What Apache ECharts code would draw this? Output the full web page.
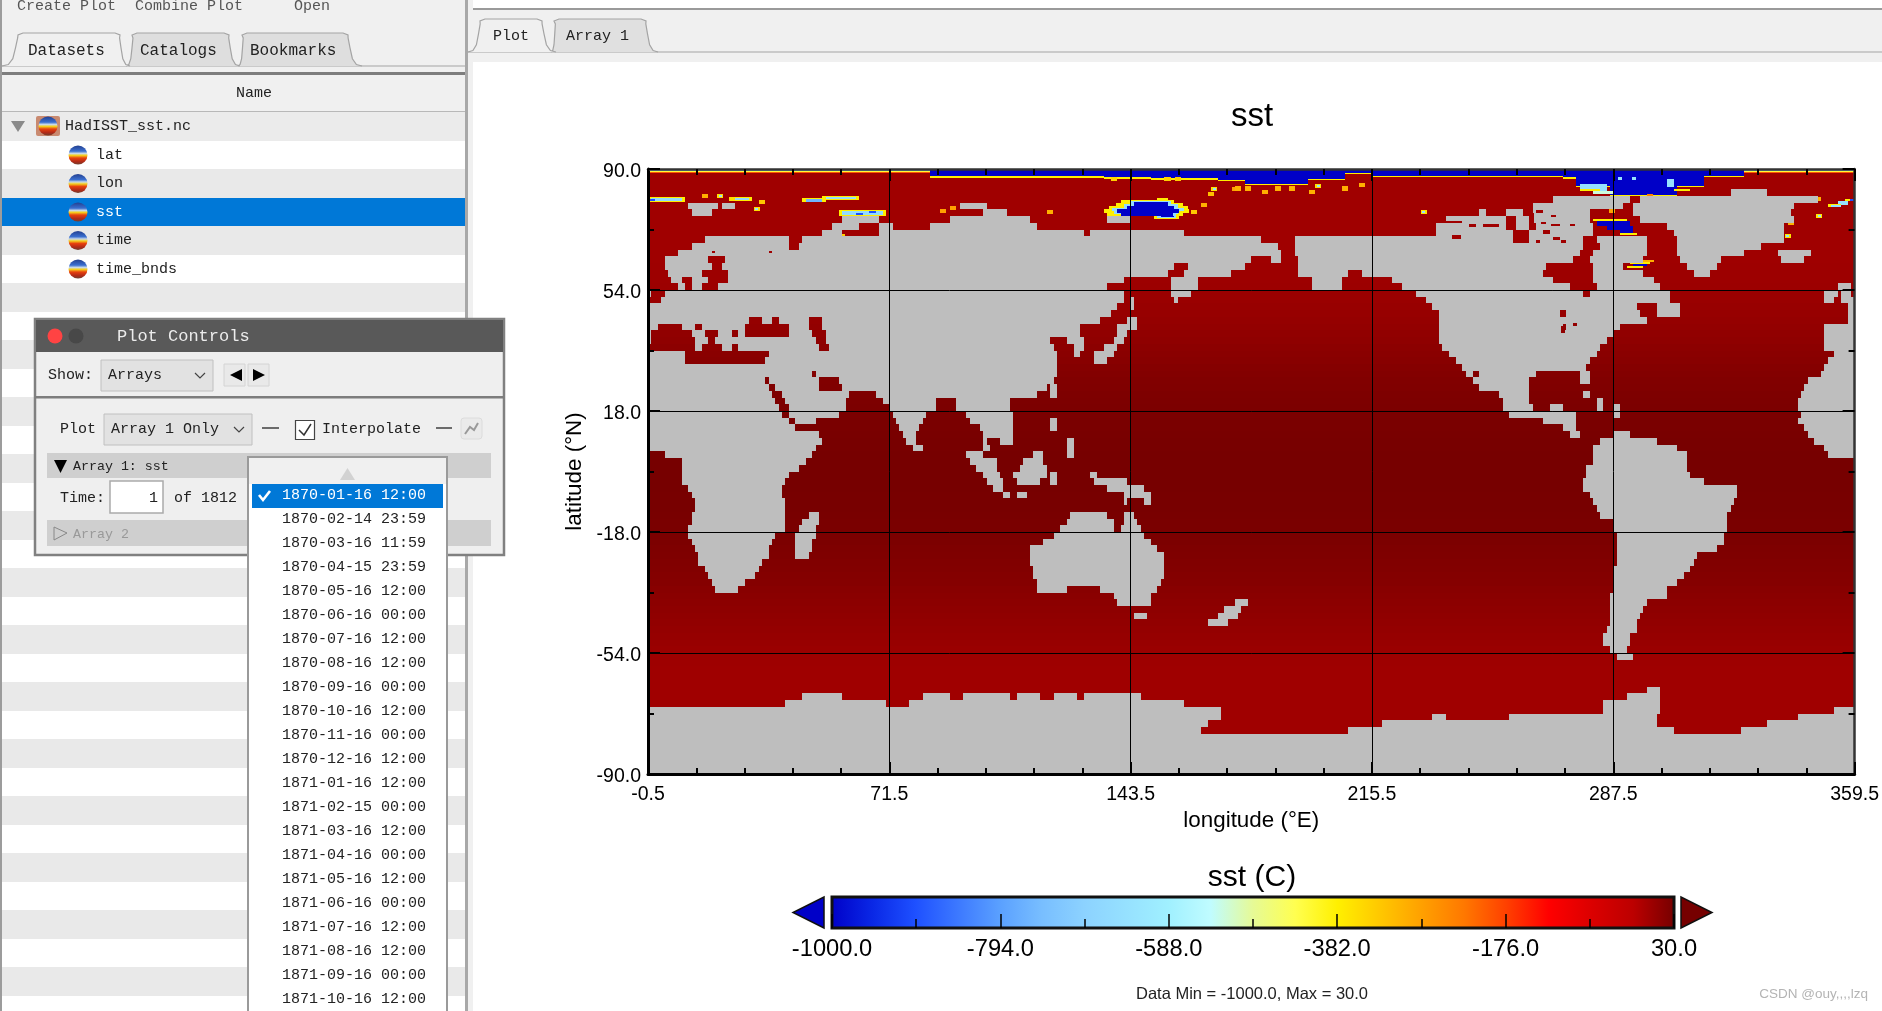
<!DOCTYPE html>
<html><head><meta charset="utf-8">
<style>html,body{margin:0;padding:0;background:#fff;overflow:hidden}#c{width:1882px;height:1011px}</style>
<script src="https://cdn.jsdelivr.net/npm/echarts@6/dist/echarts.min.js"></script>
</head><body><div id="c"></div>
<script>
/* ---------- chart values ---------- */
const title = 'sst';
const barTitle = 'sst (C)';
const footer = 'Data Min = -1000.0, Max = 30.0';
const rowTops = [90,88,86,84,82,80,78,76,74,72,70,68,66,64,62,60,58,56,54,52,50,48,46,44,42,40,38,36,34,32,30,28,26,24,22,20,18,16,14,12,10,8,6,4,2,0,-2,-4,-6,-8,-10,-12,-14,-16,-18,-20,-22,-24,-26,-28,-30,-32,-34,-36,-38,-40,-42,-44,-46,-48,-50,-52,-54,-56,-58,-60,-62,-64,-66,-68,-70,-72,-74,-76,-78,-80,-82,-84,-86,-88];
const seaSst = [-1.8,-1.8,-1.8,-1.8,-1.8,-1.8,-1.8,-1.8,-1.8,-1.8,-1.5,-1.2,-1,-0.5,0,0.5,1,1.5,2.5,3,4,5,6.5,8,9.5,11,13,14.5,16,17.5,19,20.5,21.5,22.5,23.5,24.5,25,25.5,26,26.5,27,27,27.5,27.5,27.5,27.5,27.5,27.5,27,27,27,26.5,26,25.5,25,24,23,22,21,20,18.5,17.5,16,14.5,13,11.5,10,8.5,7,5.5,4,2.5,1,0,-0.5,-1,-1.5,-1.8,-1.8,-1.8,-1.8,-1.8,-1.8,-1.8,-1.8,-1.8,-1.8,-1.8,-1.8,-1.8];
/* land: [row top latitude, start, end, start, end ...] in degrees of the x axis */
const landRows = [
[84,323,334],
[82,270,293,296,349],
[80,12,21,22,26,93,101,264,291,294,342],
[78,13,19,100,107,248,250,256,261,264,281,294,341],
[76,58,69,90,114,137,144,238,256,259,263,264,281,296,342],
[74,55,63,69,73,84,116,235,256,259,263,265,282,304,339],
[72,52,58,69,130,132,160,235,258,263,282,306,339],
[70,17,42,46,183,193,258,263,279,283,298,307,339],
[68,13,42,45,188,193,279,284,298,307,332],
[66,9,189,193,278,282,298,307,327,337,347],
[64,5,18,23,180,186,189,194,276,281,297,308,320,338,345],
[62,5,19,22,157,161,178,194,268,282,291,310,319],
[60,6,16,24,155,160,174,194,209,213,267,282,297,312,317],
[58,7,10,13,18,24,142,156,164,198,207,222,270,282,300],
[56,9,11,13,16,21,137,156,164,198,207,225,275,283,302,355,359],
[54,0,1,5,142,156,162,229,279,281,305,351,355,356,359],
[52,4,142,144,145,157,158,232,305,351,354,356,360],
[50,0,140,144,145,234,295,301,308,358,360],
[48,0,138,236,272,274,296,301,308,358,360],
[46,0,30,34,37,39,48,52,135,143,146,236,298,358,360],
[44,0,3,10,14,16,29,42,48,52,129,140,146,236,273,274,290,351,360],
[42,0,1,13,17,21,25,27,29,42,49,53,129,140,143,236,288,351,360],
[40,0,1,14,18,20,50,53,120,125,130,139,142,236,286,351,360],
[38,14,16,22,25,27,51,54,121,127,130,136,140,237,284,351,360],
[36,0,11,36,122,127,129,133,139,239,283,354,360],
[34,0,11,35,122,133,137,241,281,352,360],
[32,0,122,243,280,351,360],
[30,0,49,50,122,244,246,248,265,278,281,350,360],
[28,0,35,36,51,57,121,246,263,278,281,346,360],
[26,0,36,38,51,58,119,120,122,248,263,345,360],
[24,0,37,40,60,68,116,120,122,254,263,279,281,344,360],
[22,0,38,41,59,70,86,92,108,255,263,283,285,343,360],
[20,0,39,42,59,72,86,92,108,255,264,269,273,283,285,288,290,343,360],
[18,0,40,42,57,73,83,95,109,257,277,288,290,344,360],
[16,0,42,44,50,74,82,96,109,120,122,267,277,343,360],
[14,0,44,75,81,99,109,120,122,273,277,345,360],
[12,0,51,76,80,100,109,275,278,288,293,346,360],
[10,0,52,77,80,100,101,105,109,125,127,284,301,348,360],
[8,0,50,79,82,100,102,125,127,282,307,351,360],
[6,5,49,95,100,115,118,125,127,282,310,352,360],
[4,10,47,96,104,112,118,282,310],
[2,10,45,98,104,111,119,280,310],
[0,10,42,100,105,109,119,120,122,132,134,280,311],
[-2,10,41,101,106,110,117,120,122,133,143,279,315],
[-4,12,40,103,106,137,148,279,325],
[-6,13,40,106,108,110,113,142,150,281,325],
[-8,14,41,142,143,148,150,282,324],
[-10,14,41,283,323],
[-12,13,41,48,51,126,137,142,145,284,322],
[-14,13,41,46,51,125,139,142,146,288,322],
[-16,12,41,45,50,123,139,141,147,288,322],
[-18,12,38,44,50,121,148,289,321],
[-20,13,37,44,49,118,150,289,321],
[-22,14,36,44,49,114,152,289,319],
[-24,15,36,44,48,114,154,289,313],
[-26,15,34,114,154,289,312],
[-28,17,33,115,154,288,311],
[-30,18,32,115,154,288,309],
[-32,19,29,116,153,288,307],
[-34,20,27,116,125,135,152,288,304],
[-36,139,150,287,304],
[-38,140,150,175,179,287,298],
[-40,172,177,287,297],
[-42,145,149,170,176,287,296],
[-44,167,173,287,295],
[-46,286,295],
[-48,285,293],
[-50,285,293],
[-52,287,292],
[-54,289,294],
[-64,298,302],
[-66,46,58,82,90,94,108,110,117,121,128,130,147,292,302],
[-68,41,71,78,160,285,302],
[-70,0,171,285,302,354,360],
[-72,0,171,234,238,257,301,343,360],
[-74,0,167,219,301,334,360],
[-76,0,165,209,306,326,360],
[-78,0,360],[-80,0,360],[-82,0,360],[-84,0,360],[-86,0,360],[-88,0,360]
];
/* sea channels and small lakes cut through the land: [north, south, start, end, sst] */
const channels = [
[74.6,73.8,238,243,-1.8],[73.5,72.8,245,247,-1.8],[73.5,72.8,249,254,-1.8],[76.8,72,263.3,264.3,-1.8],
[77.8,77,265,267,-1.8],[76.3,75.6,269.5,271,-1.8],[74.3,73.5,266.5,268,-1.8],[73.6,72.9,269.5,272,-1.8],[73.6,72.9,275,276.5,-1.8],
[71.9,70.8,267,269,-1.8],[69.8,69,270,272,-1.8],[68.8,68,272.5,274,-1.8],[68.8,68,265,266.2,-1.8],
[70,68,259,262.7,-1.8],[70.4,69.1,240,242.6,-1.8],[79.5,78.7,291.5,293.3,-1.8],
[47.5,46.3,272,274,5],[44.3,43.4,276,277.3,8],[43.3,41.3,272.5,273.5,9],
[65.7,65,19,20,-1],[65.7,65,36,37,-1]
];
/* sea ice: [start, end, southern edge latitude] */
const iceEdge = [[84,136,87.9],[136,150,87.6],[150,170,87.3],[170,178,86.8],[178,197,85.6],[197,208,87.2],[208,216,89],[216,273,88],[273,277,87.6],[277,287,85],[287,307,82.5],[307,315,85],[315,327,88]];
/* thin ice strip and patches: [north, south, start, end, sst] */
const icePatches = [
[90,89.4,0,84,-700],[89.4,89.05,0,84,-420],[89.05,88.8,0,84,-200],
[90,89.4,327,360,-700],[89.4,89.05,327,360,-420],[89.05,88.8,327,360,-200],
[81.7,80.3,0,11,-380],[81.4,80.6,1,10,-660],[81.2,80.5,0,2,-900],
[81.7,80.5,25,31,-380],[81.4,80.8,26,30,-660],
[81.4,80.1,46,53,-380],[81.1,80.3,47,52,-760],
[82,80.7,52,63,-380],[81.7,81,53,62,-640],
[77.9,76.1,57,71,-380],[77.6,76.4,58,70,-660],[77,76.2,62,64,-900],[77.6,76.8,66,68,-900],
[81.4,80.8,152,155,-380],[80.8,80,141,157,-380],[80,79,139.5,159.5,-380],[79,78,137.5,161,-380],[78,77,136,161.5,-380],[77,76,137,159.5,-380],[76,75.2,151,158.5,-380],
[80.4,79.5,144,156,-660],[79.5,78.5,142,158,-660],[78.5,77.5,138.5,160,-660],[77.5,76.5,139,158,-660],[76.5,75.4,152,157.5,-660],
[80.2,79,145,155,-1000],[79,78,143,157,-1000],[78,77,140,158.5,-1000],[77,76,141,156.5,-1000],[76,75.6,153,157,-1000],
[85.5,83.5,278,286,-640],[84,83.4,278,284,-380],[83.5,82.6,282,288,-520],
[87.5,86.7,289.5,290.7,-640],[87.5,86.7,293.5,294.8,-640],[87,84.5,304,306,-640],[84,83.4,306,311,-380],
[75,74.5,282,292,-380],[74.5,73,283,293,-1000],[73,72,286,294,-1000],[72,71,290,294,-1000],[71,70.5,290,295,-380],
[63,62.3,297,300,-300],[62.3,61.7,293,299,-380],[61.7,61,294,298,-1000],[61,60.4,292,297,-380],[60,59,291,293,-640],
[67,65,284,285.5,-380],[66.3,65,284,285,-640],
[81,80.5,357,360,-380],[80.4,79.4,355,358,-640],[79.6,78.7,352,356,-380],[79.4,78.8,353,356,-640],[81,80.4,358.5,360,-900]
];
/* small melt spots: [lat, x, sst] */
const iceSpots = [[82,17,-300],[82,21.6,-360],[81,25,-360],[80.2,34,-330],[78,32.5,-360],[70,58,-340],[77.5,88,-280],[78.3,91,-280],[77.3,120,-300],[77.3,163,-330],[79.3,166,-300],[82.5,168,-320],[84,169,-360],[84,175,-280],[87,139,-340],[87,155,-340],[87,158,-340],[84.2,176,-300],[84.2,179,-300],[83.3,184,-300],[84.2,188,-300],[84.2,192,-300],[83.3,198,-300],[84.2,208,-300],[85.3,213,-300],[85,200,-360],[77.3,231.4,-370],[82,299,-240],[77.5,287.5,-280],[81,349,-300],[76,349.4,-370],[70,340,-370],[74,341,-300]];
const iceSpotCores = [[82,21.6,-640],[78,32.5,-640],[84,169,-640],[85,200,-640],[77.3,231.4,-640],[76,349.4,-640],[70,340,-640]];
const colorStops = ['#0000c8','#0a28e6','#1e50ff','#3c78ff','#5aa0ff','#78beff','#8cd2ff','#96e1ff','#a0f0ff','#c0fcff','#e6fa96','#ffff50','#fff000','#ffc800','#ffa000','#ff7800','#ff4000','#ff0000','#dc0000','#bc0000','#740000'];
/* ---------- application panel text ---------- */
const toolbarLabels = [['Create Plot',17],['Combine Plot',135],['Open',294]];
const datasetTabs = ['Datasets','Catalogs','Bookmarks'];
const variableNames = ['lat','lon','sst','time','time_bnds'];
const timeLabels = ['1870-01-16 12:00','1870-02-14 23:59','1870-03-16 11:59','1870-04-15 23:59','1870-05-16 12:00','1870-06-16 00:00','1870-07-16 12:00','1870-08-16 12:00','1870-09-16 00:00','1870-10-16 12:00','1870-11-16 00:00','1870-12-16 12:00','1871-01-16 12:00','1871-02-15 00:00','1871-03-16 12:00','1871-04-16 00:00','1871-05-16 12:00','1871-06-16 00:00','1871-07-16 12:00','1871-08-16 12:00','1871-09-16 00:00','1871-10-16 12:00'];

/* ---------- build series data ---------- */
const seaData = [];
rowTops.forEach((t,i)=>seaData.push([0,360,t,t-2,seaSst[i]]));
iceEdge.forEach(e=>{
  seaData.push([e[0],e[1],e[2]+0.1,e[2]-0.45,-380]);
  seaData.push([e[0],e[1],90,e[2]-0.1,-1000]);
});
icePatches.forEach(p=>seaData.push([p[2],p[3],p[0],p[1],p[4]]));
iceSpots.forEach(s=>seaData.push([s[1]-0.9,s[1]+0.9,s[0]+0.6,s[0]-0.6,s[2]]));
iceSpotCores.forEach(s=>seaData.push([s[1]-0.45,s[1]+0.45,s[0]+0.3,s[0]-0.3,s[2]]));
const landData = [];
landRows.forEach(r=>{for(let i=1;i<r.length;i+=2)landData.push([r[i],r[i+1],r[0],r[0]-2]);});
const channelData = channels.map(c=>[c[2],c[3],c[0],c[1],c[4]]);

function box(api){
  const a=api.coord([api.value(0),api.value(2)]), b=api.coord([api.value(1),api.value(3)]);
  const x=Math.round(a[0]),y=Math.round(a[1]);
  return {x,y,width:Math.max(1,Math.round(b[0])-x),height:Math.max(1,Math.round(b[1])-y)};
}
const seaCell=(p,api)=>({type:'rect',shape:box(api),style:{fill:api.visual('color')}});
const landCell=(p,api)=>({type:'rect',shape:box(api),style:{fill:'#bebebe'}});

/* ---------- application panel drawn with graphic elements ---------- */
const G=[];
const R=(x,y,w,h,fill,stroke,lw,r)=>G.push({type:'rect',silent:true,shape:{x,y,width:w,height:h,r:r||0},style:{fill:fill||'transparent',stroke:stroke||null,lineWidth:lw||0}});
const T=(x,y,s,o)=>{o=o||{};G.push({type:'text',silent:true,style:{x,y,text:s,fill:o.fill||'#222',font:(o.size||15)+'px "Liberation Mono"',textAlign:o.align||'left',textVerticalAlign:'middle'}});};
const P=(pts,fill,stroke,lw)=>G.push({type:'polygon',silent:true,shape:{points:pts},style:{fill:fill||'transparent',stroke:stroke||null,lineWidth:lw||0}});
const L=(pts,stroke,lw)=>G.push({type:'polyline',silent:true,shape:{points:pts},style:{fill:null,stroke,lineWidth:lw||1}});
const globe=(cx,cy,r)=>G.push({type:'circle',silent:true,shape:{cx,cy,r},style:{fill:new echarts.graphic.LinearGradient(0,0,0,1,[{offset:0,color:'#24408f'},{offset:.3,color:'#3a6fd0'},{offset:.42,color:'#c8d8e8'},{offset:.52,color:'#f6d21e'},{offset:.66,color:'#e8400e'},{offset:.85,color:'#b02a18'},{offset:1,color:'#70402f'}])}});
/* tab outline: flared left foot, rounded top, flared right foot */
const tab=(x0,x1,x2,x3,yTop,yBot,fill)=>{
  const h=yBot-yTop;
  const pts=[[x0,yBot],[x0+(x1-x0)*.35,yBot-1.5],[x0+(x1-x0)*.6,yBot-h*.22],[x0+(x1-x0)*.75,yBot-h*.55],[x0+(x1-x0)*.87,yBot-h*.85],[x1-2,yTop+2],[x1+3,yTop],
             [x2-3,yTop],[x2+2,yTop+2],[x3-(x3-x2)*.87,yBot-h*.85],[x3-(x3-x2)*.75,yBot-h*.55],[x3-(x3-x2)*.6,yBot-h*.22],[x3-(x3-x2)*.35,yBot-1.5],[x3,yBot]];
  P(pts,fill);L(pts,'#a4a4a4',1.2);
};

R(0,0,467,1011,'#f0f0f0');
R(0,0,2,1011,'#9c9c9c');
toolbarLabels.forEach(l=>T(l[1],6,l[0],{fill:'#555'}));
/* left tabs */
L([[2,66],[466,66]],'#a4a4a4',1.2);
tab(238,244,346,362,33,66,'#dedede');
tab(126,134,227,240,33,66,'#dedede');
tab(2,20,118,130,33,66,'#f0f0f0');
T(28,50.5,datasetTabs[0],{size:16});T(140,50.5,datasetTabs[1],{size:16});T(250,50.5,datasetTabs[2],{size:16});
R(2,72,465,3,'#7d7d7d');
T(254,93,'Name',{align:'center'});
R(2,111,465,1,'#b8b8b8');
/* list rows */
R(2,112,465,29,'#ebebeb');R(2,141,465,28,'#fff');R(2,169,465,29,'#e9e9e9');R(2,198,465,28,'#0078d7');R(2,226,465,29,'#e9e9e9');R(2,255,465,28,'#fff');
for(let y=283;y<1011;y+=57){R(2,y,465,29,'#e9e9e9');R(2,y+29,465,28,'#fff');}
P([[11,121],[25,121],[18,132]],'#8a8a8a');
R(36,116,24,20,'#c98a70',null,0,2);globe(48,126,9.5);
T(65,126,'HadISST_sst.nc');
variableNames.forEach((n,i)=>{const y=155+i*28.5;globe(78,y,9.5);T(96,y,n,{fill:n==='sst'?'#fff':'#222'});});
/* separator + right chrome */
R(467,0,1415,62,'#f0f0f0');R(467,0,1415,8,'#fff');R(467,8,1415,2,'#9a9a9a');
R(467,0,6,1011,'#f0f0f0');R(465,0,3,1011,'#a8a8a8');
L([[468,52],[1882,52]],'#a4a4a4',1.2);
tab(551,556,644,658,19,52,'#e0e0e0');
tab(468,482,540,556,19,52,'#f0f0f0');
T(493,36.5,'Plot');T(566,36.5,'Array 1');
/* Plot Controls window */
R(35,319,469,236,'#efefef','#808080',2.5);
R(36,320,467,32,'#595959');
G.push({type:'circle',silent:true,shape:{cx:55,cy:336,r:7.5},style:{fill:'#ff4343'}});
G.push({type:'circle',silent:true,shape:{cx:76,cy:336,r:7.5},style:{fill:'#484848'}});
T(117,336,'Plot Controls',{fill:'#ececec',size:17});
T(48,375,'Show:');
R(101,360,112,31,'#e2e2e2','#c0c0c0',1);T(108,375,'Arrays');L([[195,373],[200,378],[205,373]],'#444',1.2);
R(224,364,21,22,'#e9e9e9','#d4d4d4',1);R(248,364,21,22,'#e9e9e9','#d4d4d4',1);
P([[230,375],[242,369],[242,381]],'#000');P([[253,369],[265,375],[253,381]],'#000');
R(35,396,469,2.5,'#7d7d7d');
T(60,429,'Plot');
R(104,414,148,31,'#e2e2e2','#c0c0c0',1);T(111,429,'Array 1 Only');L([[234,427],[239,432],[244,427]],'#444',1.2);
L([[262,428],[279,428]],'#333',1.4);
R(295.5,420.5,19,19,'#fff','#444',1.2);L([[299,430],[304,435],[311,424]],'#333',1.5);
T(322,429,'Interpolate');
L([[436,428],[452,428]],'#333',1.4);
R(461,418,21,21,'#eaeaea','#dcdcdc',1,3);L([[465,434],[470,427],[474,430],[478,423]],'#999',2);
R(47,453,444,25,'#cfcfcf');P([[54,460],[67,460],[60.5,473]],'#000');T(73,466,'Array 1: sst',{size:13.3});
T(60,498,'Time:');R(110,481,53,32,'#fff','#aaa',1.5);T(158,498,'1',{align:'right'});T(174,498,'of 1812');
R(47,520,444,26,'#cfcfcf');P([[54,527],[67,533],[54,540]],'transparent','#888',1);T(73,534,'Array 2',{size:13.3,fill:'#999'});
/* time dropdown */
R(248,457,199,560,'#fff','#9a9a9a',2);
R(249,458,197,26,'#f0f0f0');
P([[340,480],[355,480],[347.5,468]],'#d2d2d2');
R(252,484,191,24,'#0078d7');
L([[259,495],[263,500],[270,491]],'#fff',2.6);
timeLabels.forEach((s,i)=>T(282,495+i*24,s,{fill:i===0?'#fff':'#222'}));
/* watermark */
G.push({type:'text',silent:true,style:{x:1868,y:994,text:'CSDN @ouy,,,,lzq',fill:'#b4b4b4',font:'13.5px "Liberation Sans"',textAlign:'right',textVerticalAlign:'middle'}});
/* colour bar arrows */
P([[824,897],[824,928],[793,912.5]],'#0000c8','#111',1.5);
P([[1681,897],[1681,928],[1712,912.5]],'#760000','#111',1.5);

/* ---------- chart ---------- */
const font='"Liberation Sans"';
const chart=echarts.init(document.getElementById('c'),null,{renderer:'canvas',width:1882,height:1011});
const tickLine={lineStyle:{color:'#000',width:2},inside:true,length:12,show:true};
const minor=n=>({show:true,splitNumber:n,length:6,lineStyle:{color:'#000',width:2}});
const frame={show:true,onZero:false,lineStyle:{color:'#000',width:3}};
const frameLight={show:true,onZero:false,lineStyle:{color:'#333',width:2.5}};
chart.setOption({
  animation:false,
  backgroundColor:'#fff',
  title:[
    {text:title,left:1247,top:112,textAlign:'center',textVerticalAlign:'middle',textStyle:{fontFamily:font,fontSize:33,fontWeight:'normal',color:'#000'}},
    {text:barTitle,left:1247,top:873,textAlign:'center',textVerticalAlign:'middle',textStyle:{fontFamily:font,fontSize:30,fontWeight:'normal',color:'#000'}},
    {text:footer,left:1247,top:989,textAlign:'center',textVerticalAlign:'middle',textStyle:{fontFamily:font,fontSize:16.5,fontWeight:'normal',color:'#222'}}
  ],
  graphic:{elements:G},
  visualMap:{show:false,type:'continuous',min:-1000,max:30,dimension:4,seriesIndex:[0,2],inRange:{color:colorStops}},
  grid:[
    {left:648,top:169,width:1209,height:605},
    {left:832,top:897,width:842,height:31}
  ],
  xAxis:[
    {gridIndex:0,type:'value',position:'bottom',min:0,max:360,interval:72,z:5,
      axisLine:frame,axisTick:tickLine,minorTick:minor(5),
      splitLine:{show:true,lineStyle:{color:'#000',width:1}},
      axisLabel:{margin:11,color:'#000',fontFamily:font,fontSize:19.5,formatter:v=>(v-0.5).toFixed(1)},
      name:'longitude (°E)',nameLocation:'middle',nameGap:34,nameTextStyle:{fontFamily:font,fontSize:22.4,color:'#000'}},
    {gridIndex:0,type:'value',position:'top',min:0,max:360,interval:72,z:5,
      axisLine:frameLight,axisTick:tickLine,minorTick:minor(5),axisLabel:{show:false},splitLine:{show:false}},
    {gridIndex:1,type:'value',position:'bottom',min:0,max:1030,interval:206,z:5,
      axisLine:{show:false},axisTick:{show:true,inside:true,length:14,lineStyle:{color:'#000',width:1.5}},
      minorTick:{show:true,splitNumber:2,length:9,lineStyle:{color:'#000',width:1.5}},splitLine:{show:false},
      axisLabel:{margin:9,color:'#000',fontFamily:font,fontSize:23.7,formatter:v=>(v-1000).toFixed(1)}}
  ],
  yAxis:[
    {gridIndex:0,type:'value',position:'left',min:-90,max:90,interval:36,z:5,
      axisLine:frame,axisTick:tickLine,minorTick:minor(2),
      splitLine:{show:true,lineStyle:{color:'#000',width:1}},
      axisLabel:{margin:7,verticalAlign:'top',lineHeight:5,color:'#000',fontFamily:font,fontSize:19.5,formatter:v=>v.toFixed(1)},
      name:'latitude (°N)',nameLocation:'middle',nameGap:51,nameRotate:90,nameTextStyle:{fontFamily:font,fontSize:22.4,color:'#000'}},
    {gridIndex:0,type:'value',position:'right',min:-90,max:90,interval:36,z:5,
      axisLine:frameLight,axisTick:tickLine,minorTick:minor(2),axisLabel:{show:false},splitLine:{show:false}},
    {gridIndex:1,type:'value',min:0,max:1,show:false}
  ],
  series:[
    {type:'custom',name:'sst',xAxisIndex:0,yAxisIndex:0,z:2,silent:true,clip:true,data:seaData,
      encode:{x:[0,1],y:[2,3]},renderItem:seaCell},
    {type:'custom',name:'land',xAxisIndex:0,yAxisIndex:0,z:3,silent:true,clip:true,data:landData,
      encode:{x:[0,1],y:[2,3]},renderItem:landCell},
    {type:'custom',name:'channels',xAxisIndex:0,yAxisIndex:0,z:4,silent:true,clip:true,data:channelData,
      encode:{x:[0,1],y:[2,3]},renderItem:seaCell},
    {type:'custom',name:'colour bar',xAxisIndex:2,yAxisIndex:2,z:2,silent:true,data:[[0,1030,1,0]],
      encode:{x:[0,1],y:[2,3]},
      renderItem:(p,api)=>{const a=api.coord([api.value(0),api.value(2)]),b=api.coord([api.value(1),api.value(3)]);
        return {type:'rect',shape:{x:a[0],y:a[1],width:b[0]-a[0],height:b[1]-a[1]},
          style:{stroke:'#111',lineWidth:3,fill:new echarts.graphic.LinearGradient(0,0,1,0,colorStops.map((c,i)=>({offset:i/(colorStops.length-1),color:c})))}};}}
  ]
});
</script></body></html>
